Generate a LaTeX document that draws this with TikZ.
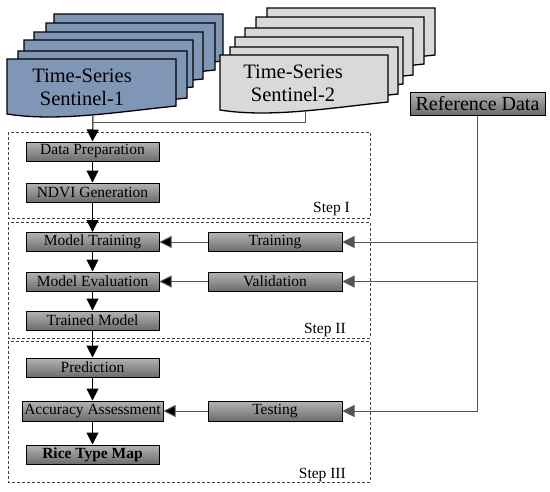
\documentclass[tikz,border=0pt]{standalone}
\usepackage{fontspec}
\setmainfont{Liberation Serif}
\usetikzlibrary{arrows.meta}

\definecolor{sone}{RGB}{128,150,183}
\definecolor{stwo}{RGB}{217,217,217}
\definecolor{boxtop}{RGB}{180,180,180}
\definecolor{boxbot}{RGB}{108,108,108}
\definecolor{reflink}{RGB}{85,85,85}

% one sheet of a stack: x, y, width, fill
\newcommand{\docsheet}[4]{%
  \draw[sheet,fill=#4] (#1,#2) -- ++(#3,0) -- ++(0,47)
    .. controls +(-0.35*#3,6) and +(0.3*#3,8) .. (#1,#2+55) -- cycle;}

\begin{document}
\begin{tikzpicture}[x=1pt,y=-1pt,>={Triangle[length=12pt,width=12pt]},
                    sheet/.style={draw=black,line width=1.3pt,line join=miter},
                    stepbox/.style={rectangle,draw,line width=1pt,inner sep=0pt,
                      minimum width=133pt,minimum height=19pt,top color=boxtop,
                      bottom color=boxbot,font=\fontsize{15.5}{17}\selectfont},
                    frame/.style={draw=black!75,densely dashed,line width=0.8pt},
                    steplabel/.style={anchor=east,inner sep=0pt,font=\fontsize{15.5}{17}\selectfont},
                    flow/.style={->,line width=1pt},
                    link/.style={->,draw=reflink,line width=1pt}]

    \useasboundingbox (0,0) rectangle (550,491);

    % Stacks
    \docsheet{54}{14}{169}{sone}
    \docsheet{46}{23}{169}{sone}
    \docsheet{34}{32}{169}{sone}
    \docsheet{24}{40}{169}{sone}
    \docsheet{18}{51}{169}{sone}
    \docsheet{7}{59}{169}{sone}
    \docsheet{267}{8}{168}{stwo}
    \docsheet{256}{17}{168}{stwo}
    \docsheet{245}{28}{168}{stwo}
    \docsheet{235}{37}{168}{stwo}
    \docsheet{230}{47}{168}{stwo}
    \docsheet{220}{55}{168}{stwo}

    % Step frames
    \draw[frame] (8,132) rectangle (370,218);
    \draw[frame] (8,222) rectangle (370,338);
    \draw[frame] (8,341) rectangle (370,482);
    \node[steplabel] (stepone) at (350,209) {Step I};
    \node[steplabel] (steptwo) at (346,330) {Step II};
    \node[steplabel] (stepthree) at (346,475) {Step III};

    % Nodes
    \node[align=center,font=\fontsize{20.5}{23}\selectfont] (s1) at (82,87) {Time-Series\\Sentinel-1};
    \node[align=center,font=\fontsize{20.5}{23}\selectfont] (s2) at (293,83) {Time-Series\\Sentinel-2};
    \coordinate (s1out) at (93,116);
    \coordinate (s2out) at (305,111);
    \coordinate (join) at (93,122);
    \node[stepbox,minimum width=135pt,minimum height=23pt,font=\fontsize{20}{22}\selectfont] (ref) at (477.5,103.5) {Reference Data};

    \node[stepbox] (prep) at (92.5,151.5) {Data Preparation};
    \node[stepbox] (ndvi) at (92.5,192.5) {NDVI Generation};
    \node[stepbox] (mtrain) at (92.5,242) {Model Training};
    \node[stepbox] (meval) at (92.5,281.5) {Model Evaluation};
    \node[stepbox] (trained) at (92.5,320.5) {Trained Model};
    \node[stepbox] (pred) at (92.5,367.5) {Prediction};
    \node[stepbox,minimum width=141pt,minimum height=20pt] (acc) at (92.5,411) {Accuracy Assessment};
    \node[stepbox,font=\fontsize{15.5}{17}\selectfont\bfseries] (map) at (92.5,454.5) {Rice Type Map};

    \node[stepbox,minimum width=134pt] (train) at (275,242) {Training};
    \node[stepbox,minimum width=134pt] (valid) at (275,281.5) {Validation};
    \node[stepbox,minimum width=134pt,minimum height=20pt] (test) at (275,411) {Testing};

    % Paths
    \draw[reflink,line width=1pt] (s2out) |- (join);
    \draw[flow] (s1out) -- (prep.north);
    \path[flow]
      (prep) edge (ndvi)
      (ndvi) edge (mtrain)
      (mtrain) edge (meval)
      (meval) edge (trained)
      (trained) edge (pred)
      (pred) edge (acc)
      (acc) edge (map);
    \path[link]
      (train) edge (mtrain)
      (valid) edge (meval)
      (test) edge (acc);
    \draw[link] (ref.south) |- (test.east);
    \draw[link] (ref.south |- train.east) -- (train.east);
    \draw[link] (ref.south |- valid.east) -- (valid.east);

  \end{tikzpicture}
\end{document}
